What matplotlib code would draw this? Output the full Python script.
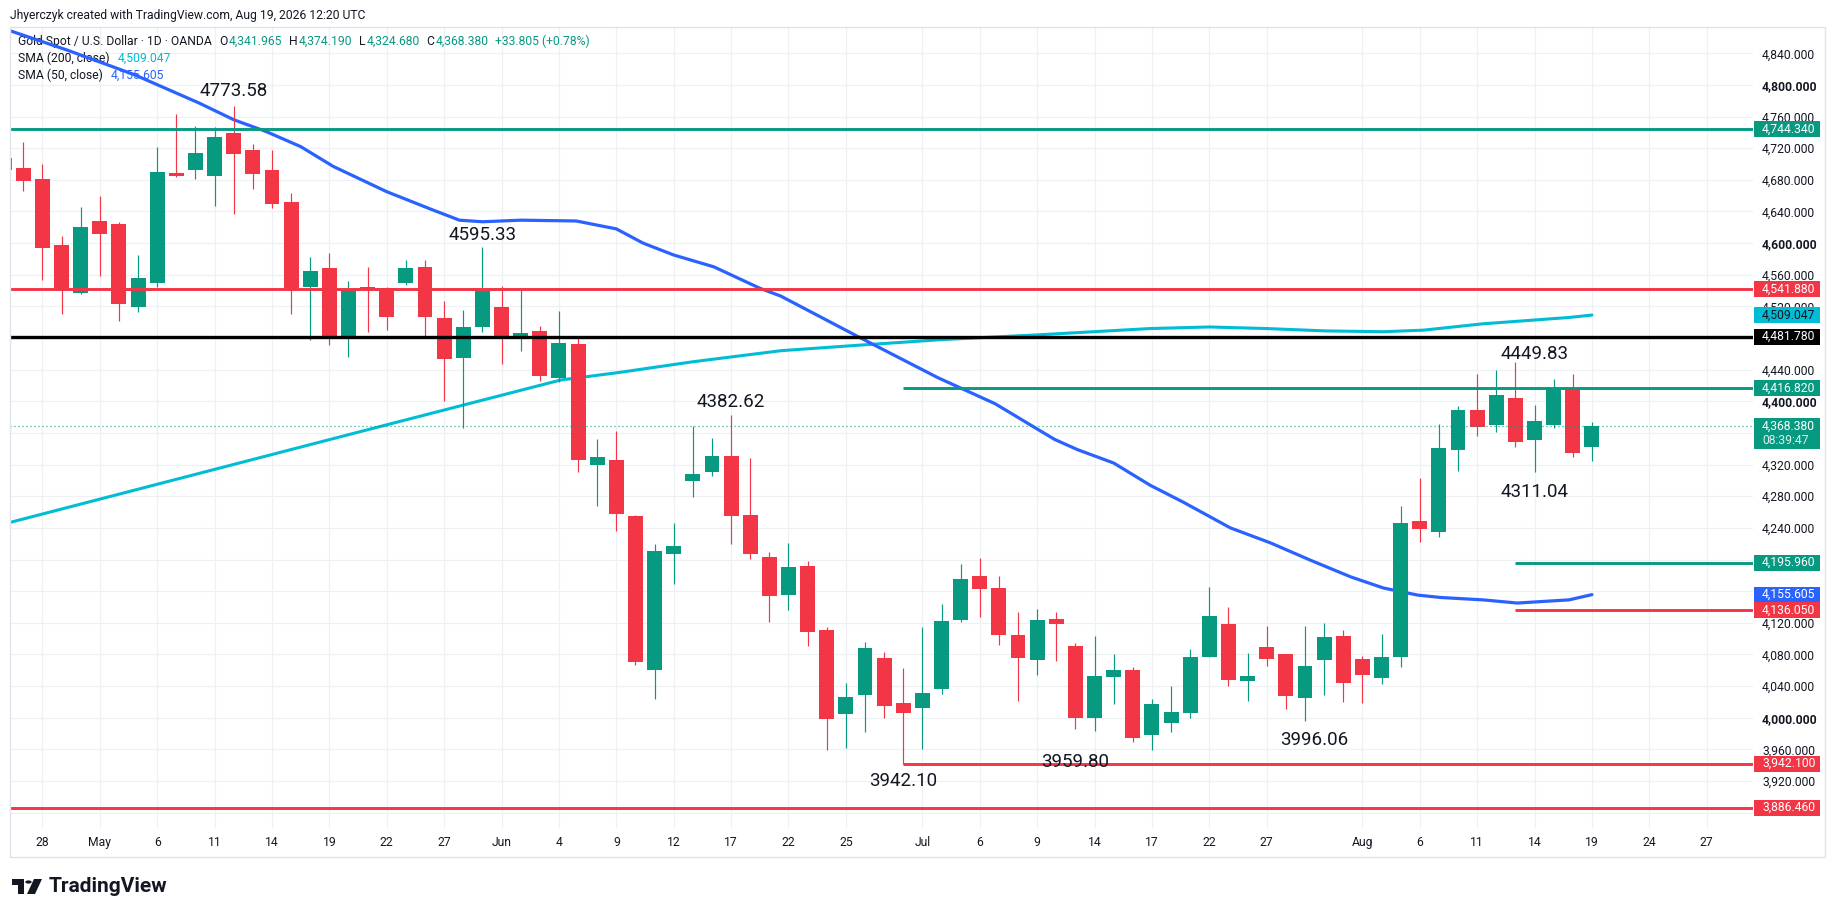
import matplotlib
matplotlib.use("Agg")
import matplotlib.pyplot as plt
import numpy as np
import pandas as pd
from matplotlib.patches import Rectangle, Polygon, Circle
from matplotlib.transforms import blended_transform_factory

plt.rcParams['font.family'] = ['Roboto', 'DejaVu Sans']

UP = '#089981'
DOWN = '#F23645'
INK = '#131722'
CYAN = '#00BCD4'
BLUE = '#2962FF'

# daily candles, business days Apr 24 .. Aug 19 2026
days = pd.bdate_range('2026-04-24', '2026-08-19')
opens = [4692.5, 4695, 4681, 4598, 4537, 4628, 4624, 4519, 4550, 4689,
         4692, 4685, 4739, 4718, 4692, 4652, 4544, 4569, 4481, 4544,
         4543, 4549, 4569.5, 4505, 4455, 4494, 4519, 4482, 4489, 4430,
         4472.5, 4319.6, 4326, 4255, 4060.4, 4207.4, 4299.7, 4311, 4331, 4256.3,
         4203.2, 4155.6, 4191.8, 4110.9, 4005.1, 4029.1, 4075.5, 4018.3, 4012.7, 4036.7,
         4124, 4179.2, 4164, 4104.6, 4073, 4124.8, 4090.7, 4000, 4052, 4060.4,
         3978.6, 3993.7, 4006.4, 4077.2, 4118.5, 4046.8, 4089.4, 4080.6, 4025.4, 4073.4,
         4103.4, 4074.3, 4050.6, 4077.2, 4248.7, 4235.2, 4338.5, 4389, 4370.5, 4404.2,
         4351.1, 4370.5, 4416.5, 4341.965]
highs = [4712, 4728, 4700, 4609, 4646, 4660, 4627, 4585, 4722, 4763,
         4748, 4747, 4773.58, 4725, 4718, 4663, 4582, 4587, 4552, 4570,
         4544, 4579, 4579, 4527, 4515.5, 4595.33, 4545.5, 4541, 4495, 4514,
         4480, 4353, 4363, 4256.3, 4219.7, 4246, 4368.8, 4353.7, 4382.62, 4328.4,
         4209.5, 4221, 4198.2, 4114.3, 4043.9, 4095.8, 4083.1, 4062.9, 4114.7, 4143.8,
         4194.4, 4201.9, 4179.2, 4133.7, 4137.5, 4133.7, 4094.5, 4103.4, 4080.6, 4064.2,
         4023.7, 4040.1, 4086.9, 4165.3, 4140, 4081.9, 4116, 4081, 4116, 4119.8,
         4110.9, 4078.1, 4105.9, 4267.7, 4303.1, 4371.4, 4394.1, 4434.6, 4439.6, 4449.83,
         4395.4, 4428.2, 4434.6, 4374.19]
lows = [4688, 4666, 4554, 4510, 4536, 4558, 4501, 4513, 4545, 4684,
        4681, 4647, 4637, 4669, 4644, 4510, 4478, 4471, 4456, 4488,
        4490, 4547, 4482, 4401, 4366, 4488, 4447.6, 4463, 4426, 4424,
        4311, 4268, 4236, 4066.7, 4024, 4169.5, 4279.5, 4305.6, 4219, 4201,
        4121.4, 4136, 4091, 3959, 3962, 3982.4, 4000, 3942.10, 3960.9, 4030.4,
        4121.4, 4127.8, 4092.4, 4021.6, 4054.4, 4072.1, 3986.2, 3983.6, 4017.8, 3969.7,
        3959.80, 3982.4, 4000, 4077, 4040.5, 4021.6, 4065.8, 4011.4, 3996.06, 4029.1,
        4020.3, 4019, 4043, 4064.5, 4222.6, 4228.9, 4312.3, 4356.6, 4361.6, 4342.7,
        4311.04, 4366, 4329.3, 4324.68]
closes = [4707.6, 4679, 4594, 4541, 4620, 4612, 4523, 4556, 4690, 4685,
          4714, 4734, 4713, 4687, 4650, 4541, 4565, 4483, 4542, 4542,
          4507, 4568, 4506, 4453.5, 4494, 4539.5, 4483, 4486, 4432, 4474,
          4326, 4329.7, 4258, 4071, 4210.8, 4217, 4308, 4331, 4255.4, 4207.4,
          4154.3, 4190.6, 4108.8, 3998.1, 4026.2, 4088.2, 4015.3, 4006.4, 4031.3, 4122.3,
          4175.4, 4163.2, 4105, 4075.9, 4123.5, 4118.9, 4000, 4052.8, 4060.4, 3974.8,
          4017.4, 4007.3, 4076.8, 4128.6, 4048.1, 4052.8, 4074.6, 4027.9, 4065.5, 4102.1,
          4044.3, 4054.4, 4076.8, 4246.2, 4239, 4341, 4389, 4367.2, 4408, 4349,
          4375.1, 4415.2, 4334.575, 4368.38]

# moving averages (bar number, value)
sma50_bar = [0, 3.3, 6.8, 10.2, 12.0, 13.7, 15.5, 17.2, 20.0, 22.4, 23.8, 25.0, 27.0,
             29.9, 32.0, 33.4, 35.0, 37.1, 39.5, 40.6, 44.7, 48.8, 51.8, 54.9, 56.1,
             58.0, 59.9, 61.6, 64.1, 66.2, 68.3, 70.4, 72.1, 73.9, 75.1, 77.3, 79.1,
             81.8, 83.0]
sma50_val = [4871, 4844, 4813, 4777, 4756, 4741, 4722, 4697, 4665, 4642, 4629, 4627, 4629,
             4628, 4618, 4600, 4585, 4570, 4543, 4533, 4481, 4430, 4397, 4352, 4339,
             4322, 4294, 4273, 4240, 4221, 4199, 4178, 4164, 4155, 4152, 4149, 4145,
             4149, 4155.605]
sma200_bar = [0, 18.6, 23.0, 29.1, 32.0, 36.0, 40.6, 44.7, 49.0, 54.0, 59.9, 63.0,
              66.0, 69.1, 72.1, 74.2, 77.3, 81.8, 83.0]
sma200_val = [4245, 4361.6, 4389, 4427, 4436, 4450, 4464, 4471, 4478, 4484, 4492, 4494,
              4492, 4489, 4488, 4490, 4498, 4506, 4509.047]

# horizontal levels
levels = [4744.34, 4541.88, 4481.78, 4416.82, 4195.96, 4136.05, 3942.10, 3886.46]
level_colors = [UP, DOWN, 'black', UP, UP, DOWN, DOWN, DOWN]
level_start = [None, None, None, '2026-06-30', '2026-08-13', '2026-08-13', '2026-06-30', None]

# swing labels
note_text = ['4773.58', '4595.33', '4382.62', '4449.83', '4311.04', '3942.10', '3959.80', '3996.06']
note_bar = [12, 25, 38, 80, 80, 47, 56, 68.5]
note_y = [4786, 4604, 4393, 4453, 4279.5, 3914, 3938, 3965.5]

tick_dates = ['2026-04-28', '2026-05-01', '2026-05-06', '2026-05-11', '2026-05-14',
              '2026-05-19', '2026-05-22', '2026-05-27', '2026-06-01', '2026-06-04',
              '2026-06-09', '2026-06-12', '2026-06-17', '2026-06-22', '2026-06-25',
              '2026-07-01', '2026-07-06', '2026-07-09', '2026-07-14', '2026-07-17',
              '2026-07-22', '2026-07-27', '2026-08-03', '2026-08-06', '2026-08-11',
              '2026-08-14', '2026-08-19', '2026-08-24', '2026-08-27']
tick_text = ['28', 'May', '6', '11', '14', '19', '22', '27', 'Jun', '4', '9', '12', '17',
             '22', '25', 'Jul', '6', '9', '14', '17', '22', '27', 'Aug', '6', '11', '14',
             '19', '24', '27']
# price-scale labels that TradingView hides behind the badges
hidden_ticks = [3880, 4200, 4360, 4480]

last_o, last_h, last_l, last_c = 4341.965, 4374.190, 4324.680, 4368.380
last_chg, last_pct = 33.805, 0.78
sma200_last, sma50_last = 4509.047, 4155.605
countdown = '08:39:47'

W, H = 1835, 917
L, R, T, B = 10, 1753, 26.7, 828


def fx(px):
    return px / W


def fy(py):
    return 1 - py / H


fig = plt.figure(figsize=(W / 100, H / 100), dpi=100)
fig.patch.set_facecolor('white')
ax = fig.add_axes([fx(L), fy(B), fx(R) - fx(L), fy(T) - fy(B)])
xmin, xmax = 0.305, 91.42
ymin, ymax = 3860.6, 4873.6
ax.set_xlim(xmin, xmax)
ax.set_ylim(ymin, ymax)
dpp = (ymax - ymin) / (B - T)   # price per pixel
for s in ax.spines.values():
    s.set_visible(False)

# candles
x = np.arange(len(days))
o = np.array(opens)
c = np.array(closes)
cols = [UP if cc >= oo else DOWN for oo, cc in zip(o, c)]
body_lo = np.minimum(o, c)
body_h = np.maximum(np.abs(c - o), 1.3 * dpp)
ax.vlines(x, lows, highs, colors=cols, lw=0.85, zorder=3)
ax.bar(x, body_h, bottom=body_lo, width=0.78, color=cols, lw=0, zorder=3)

# moving averages
ax.plot(sma200_bar, sma200_val, color=CYAN, lw=2.2, zorder=2.5, solid_capstyle='round')
ax.plot(sma50_bar, sma50_val, color=BLUE, lw=2.3, zorder=2.5, solid_capstyle='round')

# levels
for lv, lc, ls in zip(levels, level_colors, level_start):
    lw = 2.4 if lc == 'black' else 2.1
    if ls is None:
        ax.axhline(lv, color=lc, lw=lw, zorder=5)
    else:
        x0 = days.get_loc(pd.Timestamp(ls))
        ax.hlines(lv, x0, xmax, color=lc, lw=lw, zorder=5)

# last price dotted line
ax.axhline(last_c, color=UP, lw=0.9, ls=(0, (0.8, 2.4)), zorder=4)

for t, bx, by in zip(note_text, note_bar, note_y):
    ax.text(bx, by, t, ha='center', va='baseline', fontsize=13.5, color=INK, zorder=6)

# axes ticks
cal = pd.bdate_range('2026-04-24', '2026-08-31')
xpos = cal.get_indexer(pd.to_datetime(tick_dates))
ax.set_xticks(xpos, tick_text)
ax.tick_params(axis='x', length=0, pad=6, labelsize=8.7, labelcolor=INK)

yt = list(range(3880, 4841, 40))
ax.yaxis.tick_right()
ax.set_yticks(yt, ['' if v in hidden_ticks else f'{v:,.3f}' for v in yt])
ax.tick_params(axis='y', length=0, pad=6.5, labelsize=8.7, labelcolor=INK)
for v, lab in zip(yt, ax.get_yticklabels()):
    if v % 200 == 0:
        lab.set_fontweight('bold')
ax.grid(True, color='#eef0f3', lw=0.9)

# price badges
tr = blended_transform_factory(ax.transAxes, ax.transData)
bx0 = (1754 - L) / (R - L)
bw = (1819.5 - 1754) / (R - L)
tx = (1762 - L) / (R - L)
badges = [(4744.34, UP, 'white'), (4541.88, DOWN, 'white'), (sma200_last, CYAN, INK),
          (4481.78, 'black', 'white'), (4416.82, UP, 'white'), (4195.96, UP, 'white'),
          (sma50_last, BLUE, 'white'), (4136.05, DOWN, 'white'), (3942.10, DOWN, 'white'),
          (3886.46, DOWN, 'white')]
for p, bg, fg in badges:
    ax.add_patch(Rectangle((bx0, p - 8 * dpp), bw, 16 * dpp, transform=tr, color=bg,
                           clip_on=False, zorder=10, lw=0))
    ax.text(tx, p, f'{p:,.3f}', transform=tr, color=fg, fontsize=8.7, va='center',
            ha='left', zorder=11, clip_on=False)
ax.add_patch(Rectangle((bx0, last_c - 22.3 * dpp), bw, 30.3 * dpp, transform=tr, color=UP,
                       clip_on=False, zorder=10, lw=0))
ax.text(tx, last_c, f'{last_c:,.3f}', transform=tr, color='white', fontsize=8.7,
        va='center', ha='left', zorder=11)
ax.text(tx, last_c - 14 * dpp, countdown, transform=tr, color='#d9f2ee', fontsize=8.7,
        va='center', ha='left', zorder=11)

# chart frame
fig.patches.append(Rectangle((fx(10), fy(856.7)), fx(1825) - fx(10), fy(26.7) - fy(856.7),
                             transform=fig.transFigure, fill=False, edgecolor='#e0e3eb',
                             lw=1.0))

# legend rows
rend = fig.canvas.get_renderer()


def text_row(y_px, x_px, parts, size=8.7):
    xx = x_px
    for s, col, gap in parts:
        t = ax.text(fx(xx), fy(y_px), s, transform=fig.transFigure, color=col,
                    fontsize=size, va='center', ha='left', zorder=2)
        xx += t.get_window_extent(rend).width + gap


text_row(41.7, 18, [('Gold Spot / U.S. Dollar · 1D · OANDA', INK, 7),
                    ('O', INK, 1), (f'{last_o:,.3f}', UP, 7),
                    ('H', INK, 1), (f'{last_h:,.3f}', UP, 7),
                    ('L', INK, 1), (f'{last_l:,.3f}', UP, 7),
                    ('C', INK, 1), (f'{last_c:,.3f}', UP, 6),
                    (f'+{last_chg:.3f} (+{last_pct:.2f}%)', UP, 0)])
text_row(58.7, 18, [('SMA (200, close)', INK, 8), (f'{sma200_last:,.3f}', CYAN, 0)])
text_row(75.7, 18, [('SMA (50, close)', INK, 8), (f'{sma50_last:,.3f}', BLUE, 0)])

fig.text(fx(10), fy(15), 'Jhyerczyk created with TradingView.com, Aug 19, 2026 12:20 UTC',
         fontsize=8.7, color=INK, va='center', ha='left')


# TradingView logo
def px_pts(pts):
    return [(fx(a), fy(b)) for a, b in pts]


fig.patches.append(Polygon(px_pts([(12, 879), (24, 879), (24, 894), (18, 894), (18, 885), (12, 885)]),
                           closed=True, transform=fig.transFigure, color='#131722', lw=0))
fig.patches.append(Circle((fx(28.5), fy(882)), 3.2 / W, transform=fig.transFigure,
                          color='#131722', lw=0))
fig.patches.append(Polygon(px_pts([(34, 879), (42, 879), (35, 894), (27, 894)]),
                           closed=True, transform=fig.transFigure, color='#131722', lw=0))
fig.text(fx(49), fy(887), 'TradingView', fontsize=15, fontweight='bold', color='#131722',
         va='center', ha='left')

fig.savefig('out.png', dpi=100)
